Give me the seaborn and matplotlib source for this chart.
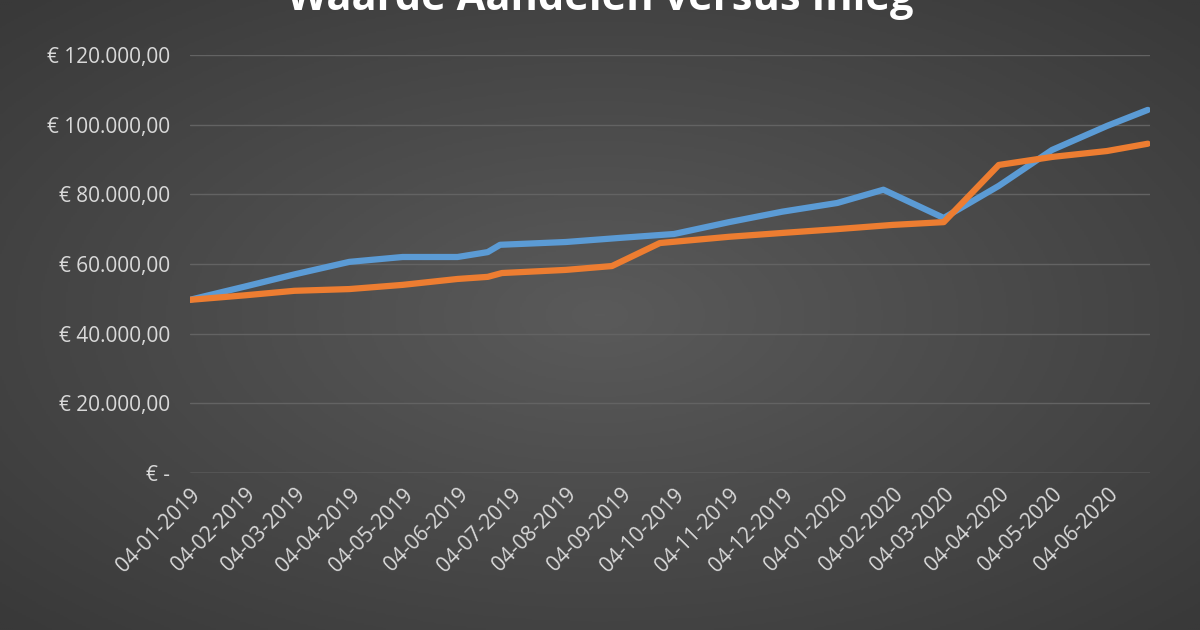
import numpy as np
import pandas as pd
import matplotlib
matplotlib.use("Agg")
import matplotlib.pyplot as plt
import matplotlib.dates as mdates
from matplotlib.ticker import FuncFormatter
import seaborn as sns

# waarde aandelen (blauw)
waarde_datum = ["2019-01-04", "2019-02-04", "2019-03-04", "2019-04-04", "2019-05-04",
                "2019-06-04", "2019-06-21", "2019-06-28", "2019-08-04", "2019-09-04",
                "2019-10-04", "2019-11-04", "2019-12-04", "2020-01-04", "2020-01-30",
                "2020-03-04", "2020-04-04", "2020-05-04", "2020-06-04", "2020-06-27"]
waarde = [49700, 53500, 57000, 60600, 62000, 62000, 63400, 65500, 66300, 67500,
          68600, 72000, 75000, 77500, 81300, 73200, 82400, 92700, 99600, 104200]

# inleg (oranje)
inleg_datum = ["2019-01-04", "2019-02-04", "2019-03-04", "2019-04-04", "2019-05-04",
               "2019-06-04", "2019-06-21", "2019-06-29", "2019-08-04", "2019-08-30",
               "2019-09-26", "2019-11-04", "2019-12-04", "2020-01-04", "2020-02-04",
               "2020-03-04", "2020-04-04", "2020-05-04", "2020-06-04", "2020-06-27"]
inleg = [49700, 51000, 52300, 52800, 54000, 55700, 56300, 57400, 58300, 59400,
         66000, 67800, 68900, 70000, 71200, 72000, 88400, 90700, 92400, 94500]

title = "Waarde Aandelen versus Inleg"

df_w = pd.DataFrame({"datum": pd.to_datetime(waarde_datum), "waarde": waarde})
df_i = pd.DataFrame({"datum": pd.to_datetime(inleg_datum), "waarde": inleg})

sns.set_style("dark")
plt.rcParams["font.family"] = ["Open Sans", "DejaVu Sans"]
fig = plt.figure(figsize=(12, 6.3), dpi=100)

# achtergrond met radiale gradient
bg = fig.add_axes([0, 0, 1, 1], zorder=-10)
yy, xx = np.mgrid[-1:1:300j, -1:1:600j]
r = np.sqrt(xx**2 + yy**2)
bg.imshow(np.clip(r / 1.4, 0, 1), cmap=matplotlib.colors.LinearSegmentedColormap.from_list(
    "g", ["#5a5a5a", "#393939"]), aspect="auto", extent=[0, 1, 0, 1])
bg.axis("off")

ax = fig.add_axes([0.158, 0.249, 0.80, 0.664])
ax.set_facecolor("none")
sns.lineplot(data=df_w, x="datum", y="waarde", color="#5b9bd5", linewidth=4.5, ax=ax)
sns.lineplot(data=df_i, x="datum", y="waarde", color="#ed7d31", linewidth=4.5, ax=ax)

ax.set_ylim(0, 120000)
ax.set_yticks(range(0, 120001, 20000))
ax.yaxis.set_major_formatter(FuncFormatter(
    lambda v, p: "€ -" if v == 0 else "€ " + f"{v:,.2f}".replace(",", "X").replace(".", ",").replace("X", ".")))
ax.set_xlim(pd.Timestamp("2019-01-04"), pd.Timestamp("2020-06-28"))
ax.set_xticks(pd.date_range("2019-01-01", "2020-06-04", freq="MS") + pd.Timedelta(days=3))
ax.xaxis.set_major_formatter(mdates.DateFormatter("%d-%m-%Y"))
plt.setp(ax.get_xticklabels(), rotation=45, ha="right", rotation_mode="anchor")
ax.tick_params(colors="#d9d9d9", labelsize=15, length=0)
ax.tick_params(axis="y", pad=14)
ax.tick_params(axis="x", pad=8)
ax.grid(axis="y", color="#636363", linewidth=1)
ax.grid(axis="x", visible=False)
for s in ax.spines.values():
    s.set_visible(False)
ax.axhline(0, color="#7a7a7a", linewidth=1)
ax.set_xlabel("")
ax.set_ylabel("")

fig.text(0.5, 1.0, title, ha="center", va="center", color="white",
         fontsize=30, fontweight="bold")

fig.savefig("out.png", dpi=100)
